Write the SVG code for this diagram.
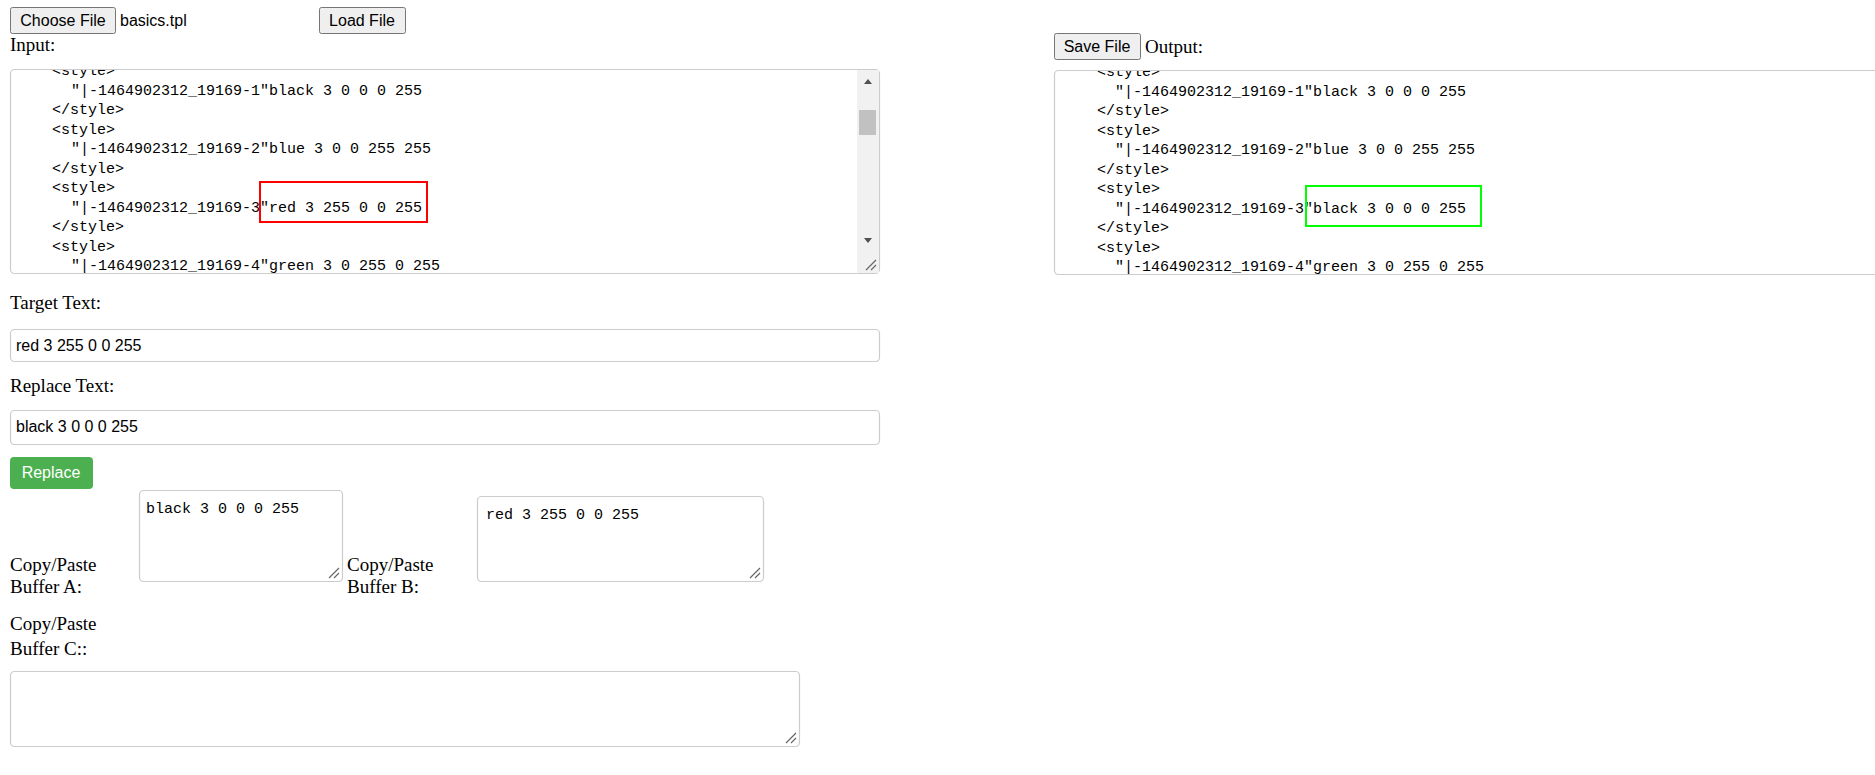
<svg xmlns="http://www.w3.org/2000/svg" width="1875" height="775" viewBox="0 0 1875 775">
<style>
.btn{fill:#efefef;stroke:#767676;stroke-width:1}
.bt{font-family:"Liberation Sans",Arial,sans-serif;font-size:16px;fill:#000}
.lbl{font-family:"Liberation Serif","Times New Roman",serif;font-size:19px;fill:#000}
.box{fill:#fff;stroke:#ccc;stroke-width:1.2}
.mono{font-family:"Liberation Mono","DejaVu Sans Mono",monospace;font-size:15px;fill:#000}
.grip{stroke:#666;stroke-width:1.2}
</style>
<rect width="1875" height="775" fill="#fff"/>
<g id="choose-file"><rect class="btn" x="10.5" y="7.5" width="105" height="26" rx="2"/><text class="bt" x="63" y="26" text-anchor="middle">Choose File</text><text class="bt" x="120" y="26">basics.tpl</text></g>
<g id="load-file"><rect class="btn" x="319.5" y="7.5" width="86" height="26" rx="2"/><text class="bt" x="362" y="26" text-anchor="middle">Load File</text></g>
<g id="input-label"><text class="lbl" x="10" y="51">Input:</text></g>
<g id="input-area">
<rect class="box" x="10.5" y="69.5" width="869" height="204" rx="4"/>
<rect x="857" y="70" width="22" height="203" fill="#f1f1f1"/>
<rect x="859" y="110" width="17" height="25" fill="#c1c1c1"/>
<path d="M864,84 L872,84 L868,79 Z M864,238 L872,238 L868,243 Z" fill="#505050"/>
<path class="grip" d="M866,270 L876,260 M871,270 L876,265"/>
<clipPath id="c1"><rect x="11" y="70" width="845" height="203"/></clipPath>
<g clip-path="url(#c1)" class="mono">
<text x="52" y="75">&lt;style&gt;</text>
<text x="71" y="94.5">"|-1464902312_19169-1"black 3 0 0 0 255</text>
<text x="52" y="114">&lt;/style&gt;</text>
<text x="52" y="133.5">&lt;style&gt;</text>
<text x="71" y="153">"|-1464902312_19169-2"blue 3 0 0 255 255</text>
<text x="52" y="172.5">&lt;/style&gt;</text>
<text x="52" y="192">&lt;style&gt;</text>
<text x="71" y="211.5">"|-1464902312_19169-3"red 3 255 0 0 255</text>
<text x="52" y="231">&lt;/style&gt;</text>
<text x="52" y="250.5">&lt;style&gt;</text>
<text x="71" y="270">"|-1464902312_19169-4"green 3 0 255 0 255</text>
</g>
<rect x="260" y="182" width="167" height="40" fill="none" stroke="#f00" stroke-width="2"/>
</g>
<g id="save-file"><rect class="btn" x="1054.5" y="33.5" width="86" height="26" rx="2"/><text class="bt" x="1097" y="52" text-anchor="middle">Save File</text><text class="lbl" x="1145" y="53">Output:</text></g>
<g id="output-area">
<rect class="box" x="1054.5" y="70.5" width="830" height="204" rx="4"/>
<clipPath id="c2"><rect x="1055" y="71" width="820" height="203"/></clipPath>
<g clip-path="url(#c2)" class="mono">
<text x="1097" y="76">&lt;style&gt;</text>
<text x="1115" y="95.5">"|-1464902312_19169-1"black 3 0 0 0 255</text>
<text x="1097" y="115">&lt;/style&gt;</text>
<text x="1097" y="134.5">&lt;style&gt;</text>
<text x="1115" y="154">"|-1464902312_19169-2"blue 3 0 0 255 255</text>
<text x="1097" y="173.5">&lt;/style&gt;</text>
<text x="1097" y="193">&lt;style&gt;</text>
<text x="1115" y="212.5">"|-1464902312_19169-3"black 3 0 0 0 255</text>
<text x="1097" y="232">&lt;/style&gt;</text>
<text x="1097" y="251.5">&lt;style&gt;</text>
<text x="1115" y="271">"|-1464902312_19169-4"green 3 0 255 0 255</text>
</g>
<rect x="1306" y="186" width="175" height="40" fill="none" stroke="#0f0" stroke-width="2"/>
</g>
<g id="target-text"><text class="lbl" x="10" y="309">Target Text:</text><rect class="box" x="10.5" y="329.5" width="869" height="32" rx="4"/><text class="bt" x="16" y="351" font-size="15">red 3 255 0 0 255</text></g>
<g id="replace-text"><text class="lbl" x="10" y="392">Replace Text:</text><rect class="box" x="10.5" y="410.5" width="869" height="34" rx="4"/><text class="bt" x="16" y="432" font-size="15">black 3 0 0 0 255</text></g>
<g id="replace-btn"><rect x="10" y="457" width="83" height="32" rx="4" fill="#4caf50"/><text class="bt" x="51" y="478" text-anchor="middle" fill="#fff" style="fill:#fff">Replace</text></g>
<g id="buffer-a"><text class="lbl" x="10" y="571">Copy/Paste</text><text class="lbl" x="10" y="593">Buffer A:</text><rect class="box" x="139.5" y="490.5" width="203" height="91" rx="4"/><text class="mono" x="146" y="513">black 3 0 0 0 255</text><path class="grip" d="M329,578 L339,568 M334,578 L339,573"/></g>
<g id="buffer-b"><text class="lbl" x="347" y="571">Copy/Paste</text><text class="lbl" x="347" y="593">Buffer B:</text><rect class="box" x="477.5" y="496.5" width="286" height="85" rx="4"/><text class="mono" x="486" y="519">red 3 255 0 0 255</text><path class="grip" d="M750,578 L760,568 M755,578 L760,573"/></g>
<g id="buffer-c"><text class="lbl" x="10" y="630">Copy/Paste</text><text class="lbl" x="10" y="655">Buffer C::</text><rect class="box" x="10.5" y="671.5" width="789" height="75" rx="4"/><path class="grip" d="M786,743 L796,733 M791,743 L796,738"/></g>
<g id="connectors"/>
</svg>
